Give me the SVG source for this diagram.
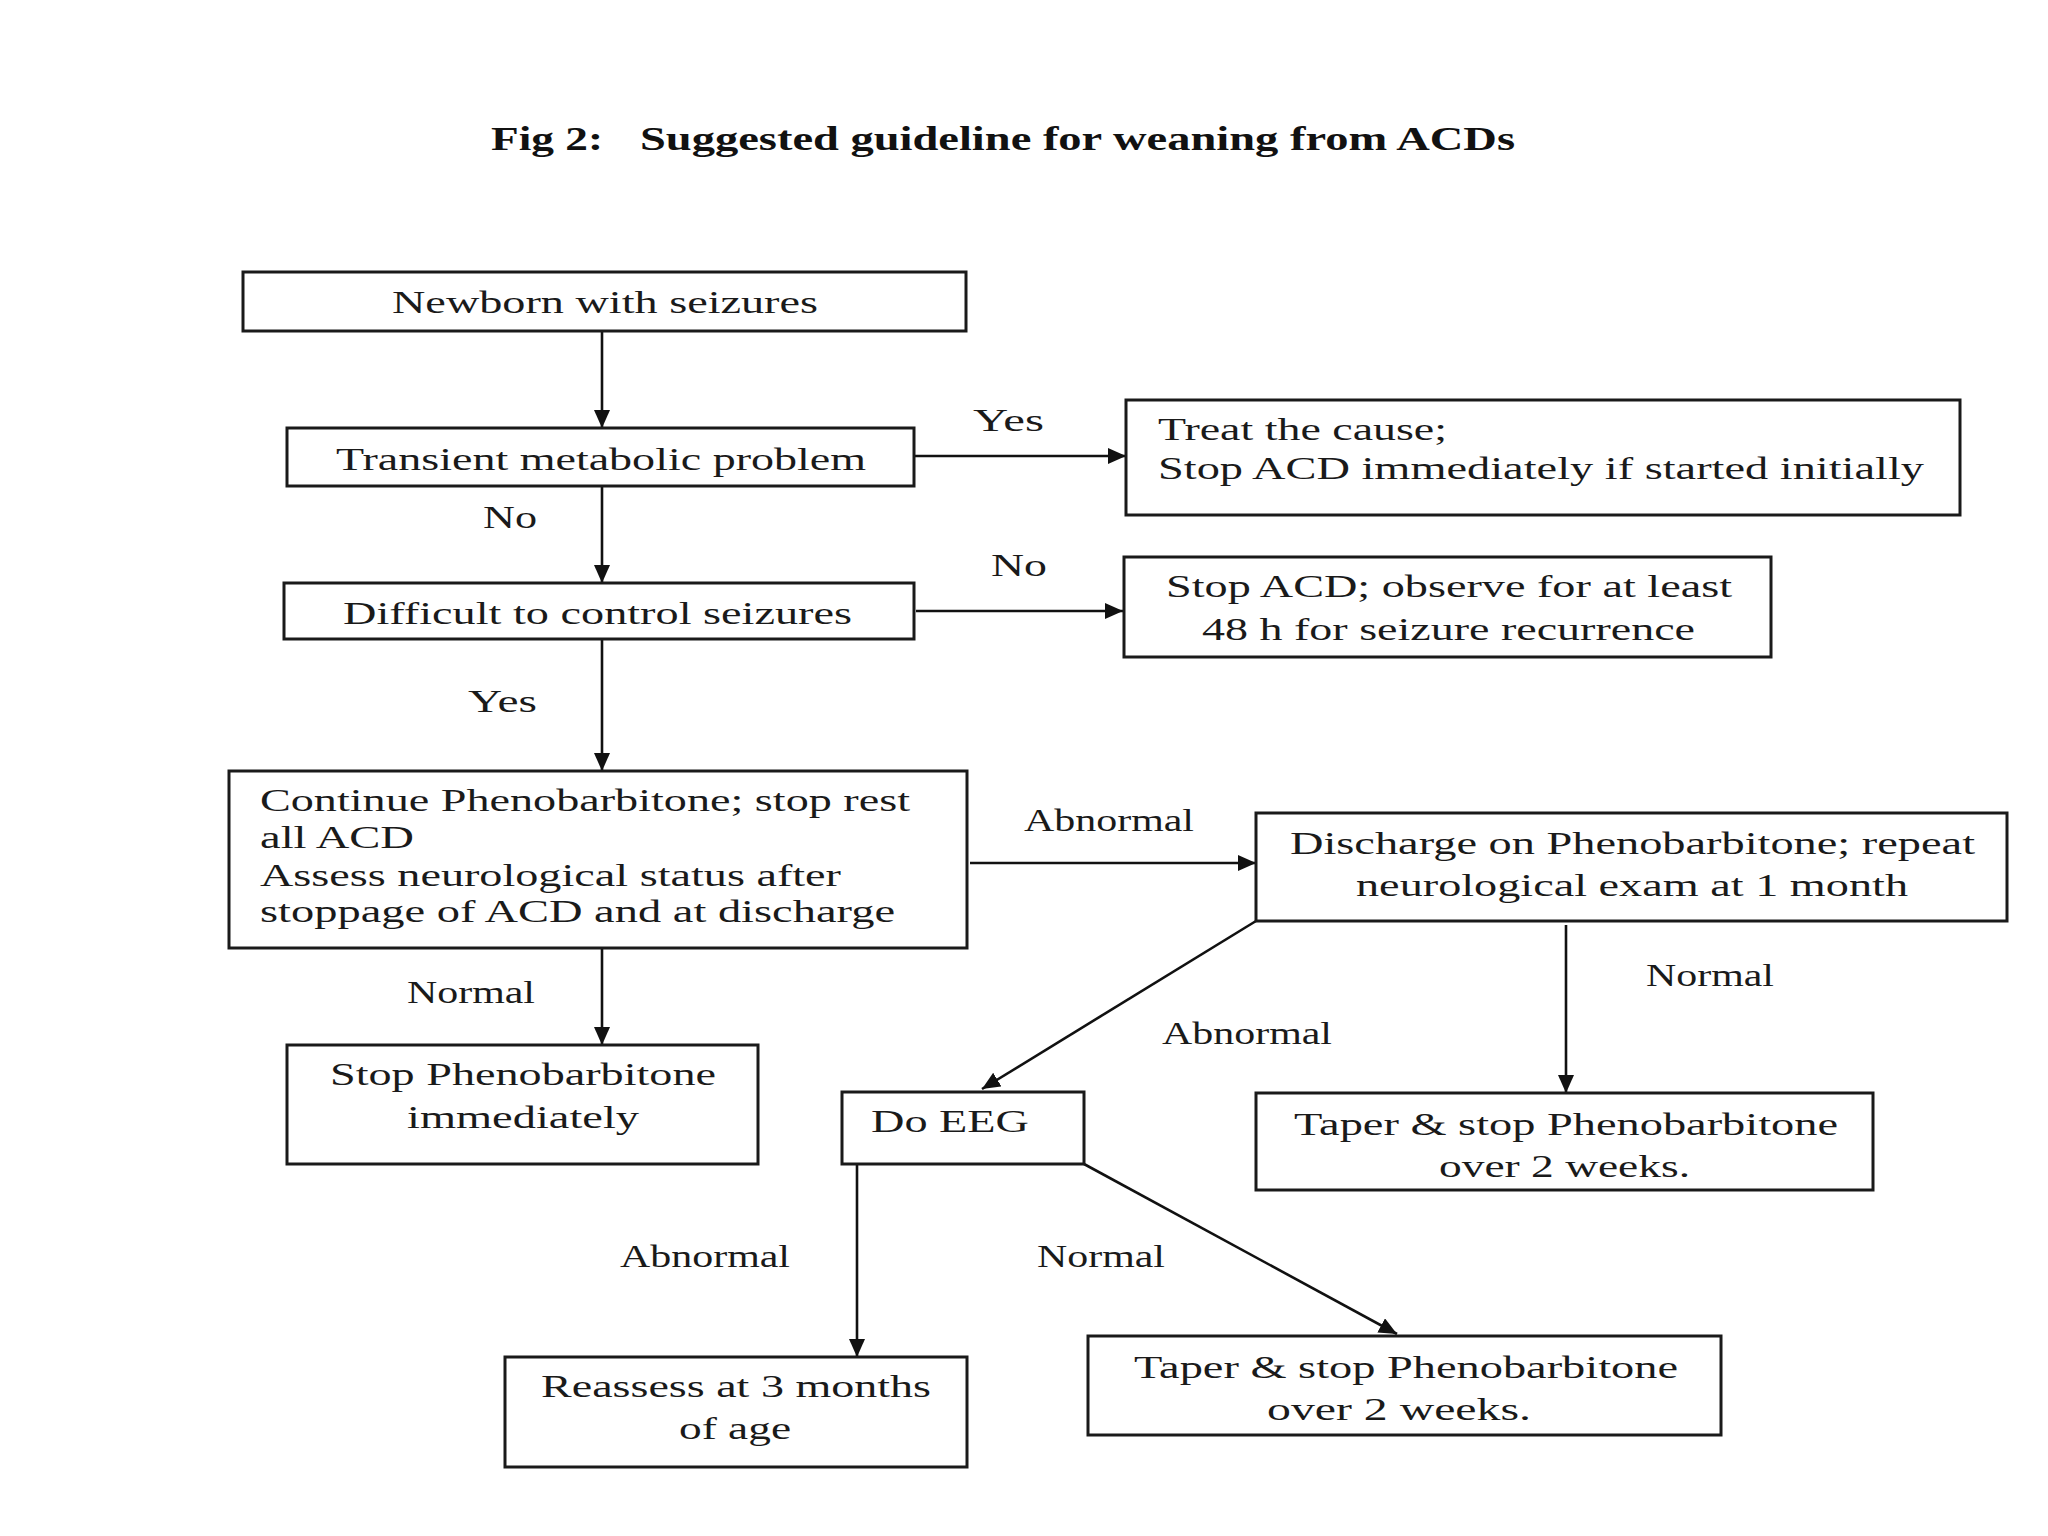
<svg xmlns="http://www.w3.org/2000/svg" width="2048" height="1536" viewBox="0 0 2048 1536">
<defs>
<style>
.box{fill:#fff;stroke:#1a1a1a;stroke-width:3}
.t{font-family:"Liberation Serif","Times New Roman",serif;font-size:32px;fill:#1a1a1a}
.lbl{font-family:"Liberation Serif","Times New Roman",serif;font-size:32px;fill:#1a1a1a}
.title{font-family:"Liberation Serif","Times New Roman",serif;font-size:34px;font-weight:bold;fill:#111}
.c{fill:none;stroke:#111;stroke-width:2.6}
</style>
<marker id="ah" markerUnits="userSpaceOnUse" markerWidth="20" markerHeight="16" refX="18" refY="8" orient="auto">
<path d="M0,0 L18,8 L0,16 Z" fill="#111"/>
</marker>
</defs>
<rect width="2048" height="1536" fill="#fff"/>
<g id="title">
<text class="title" x="491" y="150" textLength="112" lengthAdjust="spacingAndGlyphs">Fig 2:</text>
<text class="title" x="640" y="150" textLength="875" lengthAdjust="spacingAndGlyphs">Suggested guideline for weaning from ACDs</text>
</g>
<g id="connectors">
<line class="c" x1="602" y1="331" x2="602" y2="428" marker-end="url(#ah)"/>
<line class="c" x1="602" y1="486" x2="602" y2="583" marker-end="url(#ah)"/>
<line class="c" x1="602" y1="639" x2="602" y2="771" marker-end="url(#ah)"/>
<line class="c" x1="914" y1="456" x2="1126" y2="456" marker-end="url(#ah)"/>
<line class="c" x1="916" y1="611" x2="1123" y2="611" marker-end="url(#ah)"/>
<line class="c" x1="970" y1="863" x2="1256" y2="863" marker-end="url(#ah)"/>
<line class="c" x1="602" y1="948" x2="602" y2="1045" marker-end="url(#ah)"/>
<line class="c" x1="1256" y1="921" x2="982" y2="1089" marker-end="url(#ah)"/>
<line class="c" x1="1566" y1="925" x2="1566" y2="1093" marker-end="url(#ah)"/>
<line class="c" x1="857" y1="1164" x2="857" y2="1357" marker-end="url(#ah)"/>
<line class="c" x1="1084" y1="1164" x2="1397" y2="1334" marker-end="url(#ah)"/>
<text class="lbl" x="973" y="431" textLength="71" lengthAdjust="spacingAndGlyphs">Yes</text>
<text class="lbl" x="483" y="528" textLength="54" lengthAdjust="spacingAndGlyphs">No</text>
<text class="lbl" x="991" y="576" textLength="56" lengthAdjust="spacingAndGlyphs">No</text>
<text class="lbl" x="468" y="712" textLength="69" lengthAdjust="spacingAndGlyphs">Yes</text>
<text class="lbl" x="1024" y="831" textLength="170" lengthAdjust="spacingAndGlyphs">Abnormal</text>
<text class="lbl" x="407" y="1003" textLength="128" lengthAdjust="spacingAndGlyphs">Normal</text>
<text class="lbl" x="1646" y="986" textLength="128" lengthAdjust="spacingAndGlyphs">Normal</text>
<text class="lbl" x="1162" y="1044" textLength="170" lengthAdjust="spacingAndGlyphs">Abnormal</text>
<text class="lbl" x="620" y="1267" textLength="170" lengthAdjust="spacingAndGlyphs">Abnormal</text>
<text class="lbl" x="1037" y="1267" textLength="128" lengthAdjust="spacingAndGlyphs">Normal</text>
</g>
<g id="n1">
<rect class="box" x="243" y="272" width="723" height="59"/>
<text class="t" x="392" y="313" textLength="426" lengthAdjust="spacingAndGlyphs">Newborn with seizures</text>
</g>
<g id="n2">
<rect class="box" x="287" y="428" width="627" height="58"/>
<text class="t" x="336" y="470" textLength="530" lengthAdjust="spacingAndGlyphs">Transient metabolic problem</text>
</g>
<g id="n3">
<rect class="box" x="1126" y="400" width="834" height="115"/>
<text class="t" x="1158" y="440" textLength="289" lengthAdjust="spacingAndGlyphs">Treat the cause;</text>
<text class="t" x="1158" y="479" textLength="766" lengthAdjust="spacingAndGlyphs">Stop ACD immediately if started initially</text>
</g>
<g id="n4">
<rect class="box" x="284" y="583" width="630" height="56"/>
<text class="t" x="343" y="624" textLength="509" lengthAdjust="spacingAndGlyphs">Difficult to control seizures</text>
</g>
<g id="n5">
<rect class="box" x="1124" y="557" width="647" height="100"/>
<text class="t" x="1166" y="597" textLength="566" lengthAdjust="spacingAndGlyphs">Stop ACD; observe for at least</text>
<text class="t" x="1202" y="640" textLength="493" lengthAdjust="spacingAndGlyphs">48 h for seizure recurrence</text>
</g>
<g id="n6">
<rect class="box" x="229" y="771" width="738" height="177"/>
<text class="t" x="260" y="811" textLength="650" lengthAdjust="spacingAndGlyphs">Continue Phenobarbitone; stop rest</text>
<text class="t" x="260" y="848" textLength="154" lengthAdjust="spacingAndGlyphs">all ACD</text>
<text class="t" x="260" y="886" textLength="581" lengthAdjust="spacingAndGlyphs">Assess neurological status after</text>
<text class="t" x="260" y="922" textLength="635" lengthAdjust="spacingAndGlyphs">stoppage of ACD and at discharge</text>
</g>
<g id="n7">
<rect class="box" x="1256" y="813" width="751" height="108"/>
<text class="t" x="1290" y="854" textLength="685" lengthAdjust="spacingAndGlyphs">Discharge on Phenobarbitone; repeat</text>
<text class="t" x="1356" y="896" textLength="552" lengthAdjust="spacingAndGlyphs">neurological exam at 1 month</text>
</g>
<g id="n8">
<rect class="box" x="287" y="1045" width="471" height="119"/>
<text class="t" x="330" y="1085" textLength="386" lengthAdjust="spacingAndGlyphs">Stop Phenobarbitone</text>
<text class="t" x="407" y="1128" textLength="232" lengthAdjust="spacingAndGlyphs">immediately</text>
</g>
<g id="n9">
<rect class="box" x="842" y="1092" width="242" height="72"/>
<text class="t" x="871" y="1132" textLength="158" lengthAdjust="spacingAndGlyphs">Do EEG</text>
</g>
<g id="n10">
<rect class="box" x="1256" y="1093" width="617" height="97"/>
<text class="t" x="1294" y="1135" textLength="544" lengthAdjust="spacingAndGlyphs">Taper &amp; stop Phenobarbitone</text>
<text class="t" x="1439" y="1177" textLength="251" lengthAdjust="spacingAndGlyphs">over 2 weeks.</text>
</g>
<g id="n11">
<rect class="box" x="505" y="1357" width="462" height="110"/>
<text class="t" x="541" y="1397" textLength="390" lengthAdjust="spacingAndGlyphs">Reassess at 3 months</text>
<text class="t" x="679" y="1439" textLength="112" lengthAdjust="spacingAndGlyphs">of age</text>
</g>
<g id="n12">
<rect class="box" x="1088" y="1336" width="633" height="99"/>
<text class="t" x="1134" y="1378" textLength="544" lengthAdjust="spacingAndGlyphs">Taper &amp; stop Phenobarbitone</text>
<text class="t" x="1267" y="1420" textLength="264" lengthAdjust="spacingAndGlyphs">over 2 weeks.</text>
</g>
</svg>
